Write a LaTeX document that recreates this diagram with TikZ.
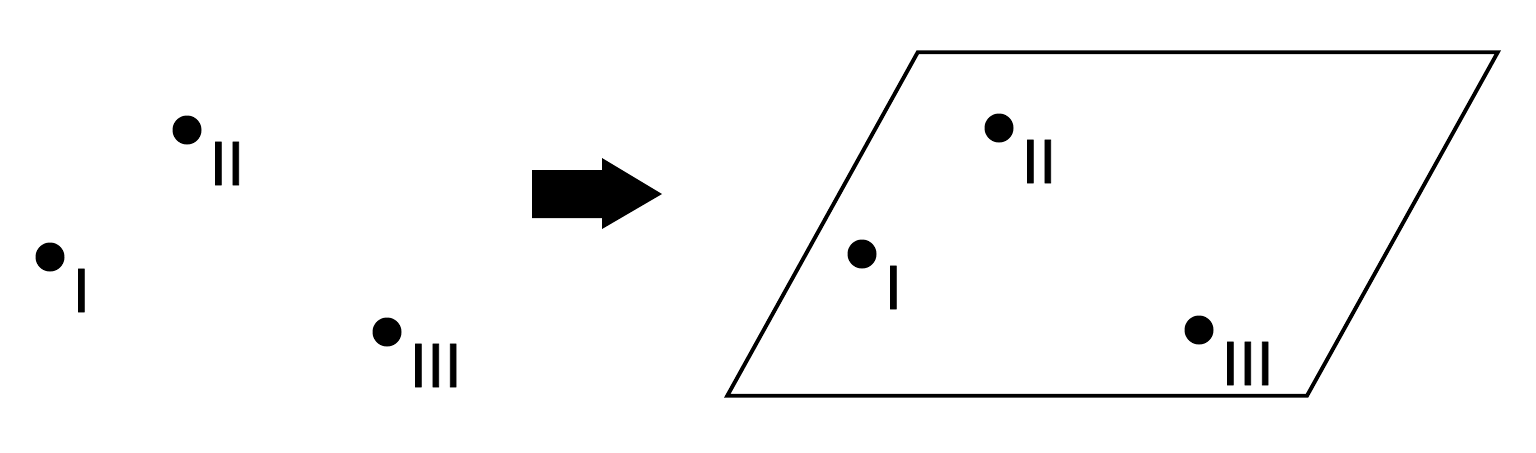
\documentclass[tikz,border=0pt]{standalone}
\usepackage{fontspec}
\setmainfont{Liberation Sans}
\newfontfamily\numfont[FakeBold=1]{Liberation Sans}

\begin{document}
\begin{tikzpicture}[
  dot/.style={circle,fill=black,inner sep=0pt,minimum size=2.9mm},
  numeral/.style={anchor=base west,inner sep=0pt,font=\numfont\fontsize{17.8}{20}\selectfont}]
\useasboundingbox (0,0) rectangle (15.36,4.52);
% loose points
\foreach \x/\y/\n in {0.50/1.95/I,1.87/3.22/II,3.87/1.20/III}{
    \node[dot] (l\n) at (\x,\y) {};
    \node[numeral] (ln\n) at (\x+0.22,\y-0.55) {\n};
}
% block arrow
\fill (5.32,2.34) -- (6.02,2.34) -- (6.02,2.23) -- (6.62,2.58) -- (6.02,2.94) -- (6.02,2.82) -- (5.32,2.82) -- cycle;
% plane
\draw[line width=1.1pt] (7.273,0.563) -- (13.07,0.563) -- (14.977,3.997) -- (9.177,3.997) -- cycle;
% points in the plane
\foreach \x/\y/\n in {8.62/1.98/I,9.99/3.24/II,11.99/1.22/III}{
    \node[dot] (r\n) at (\x,\y) {};
    \node[numeral] (rn\n) at (\x+0.22,\y-0.55) {\n};
}
\end{tikzpicture}
\end{document}
